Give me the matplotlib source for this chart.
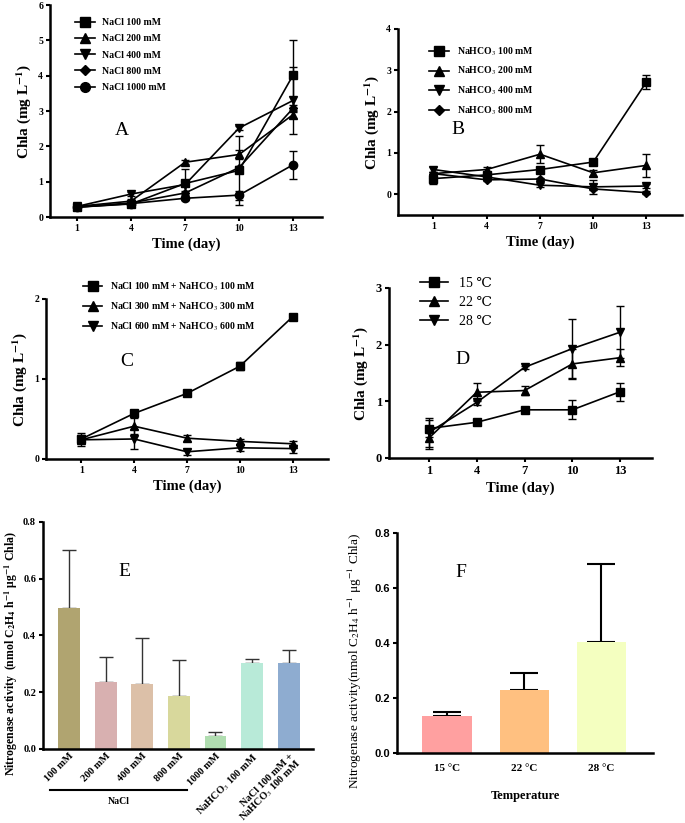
import numpy as np
import matplotlib
matplotlib.use("Agg")
import matplotlib.pyplot as plt
from matplotlib.lines import Line2D

plt.rcParams['font.family'] = ['Liberation Serif', 'DejaVu Serif']
plt.rcParams['mathtext.fontset'] = 'stix'

days = [1, 4, 7, 10, 13]

# Panel A - NaCl
a_labels = ['NaCl 100 mM', 'NaCl 200 mM', 'NaCl 400 mM', 'NaCl 800 mM', 'NaCl 1000 mM']
a_vals = [[0.28, 0.37, 0.95, 1.32, 4.02],
          [0.30, 0.45, 1.55, 1.77, 2.90],
          [0.30, 0.65, 0.92, 2.52, 3.30],
          [0.28, 0.40, 0.68, 1.40, 3.08],
          [0.28, 0.38, 0.53, 0.62, 1.48]]
a_errs = [[0.03, 0.05, 0.42, 0.98, 0.98],
          [0.03, 0.05, 0.05, 0.13, 0.10],
          [0.03, 0.05, 0.05, 0.05, 0.95],
          [0.03, 0.05, 0.05, 0.05, 0.10],
          [0.03, 0.05, 0.05, 0.13, 0.40]]

# Panel B - NaHCO3
b_labels = ['NaHCO$_3$ 100 mM', 'NaHCO$_3$ 200 mM', 'NaHCO$_3$ 400 mM', 'NaHCO$_3$ 800 mM']
b_vals = [[0.38, 0.47, 0.60, 0.78, 2.72],
          [0.50, 0.60, 0.97, 0.52, 0.70],
          [0.60, 0.42, 0.22, 0.18, 0.20],
          [0.50, 0.35, 0.37, 0.13, 0.04]]
b_errs = [[0.12, 0.05, 0.05, 0.05, 0.17],
          [0.05, 0.05, 0.22, 0.08, 0.28],
          [0.05, 0.05, 0.05, 0.17, 0.05],
          [0.05, 0.03, 0.03, 0.03, 0.03]]

# Panel C - NaCl + NaHCO3
c_labels = ['NaCl 100 mM + NaHCO$_3$ 100 mM', 'NaCl 300 mM + NaHCO$_3$ 300 mM',
            'NaCl 600 mM + NaHCO$_3$ 600 mM']
c_vals = [[0.25, 0.57, 0.82, 1.16, 1.78],
          [0.24, 0.41, 0.26, 0.22, 0.19],
          [0.24, 0.25, 0.09, 0.14, 0.13]]
c_errs = [[0.05, 0.02, 0.02, 0.05, 0.02],
          [0.03, 0.10, 0.04, 0.03, 0.03],
          [0.08, 0.13, 0.04, 0.04, 0.05]]

# Panel D - temperature
d_labels = ['15 ℃', '22 ℃', '28 ℃']
d_vals = [[0.52, 0.63, 0.85, 0.85, 1.17],
          [0.35, 1.16, 1.19, 1.66, 1.77],
          [0.45, 0.98, 1.60, 1.93, 2.22]]
d_errs = [[0.15, 0.05, 0.03, 0.17, 0.16],
          [0.20, 0.16, 0.08, 0.26, 0.15],
          [0.25, 0.05, 0.03, 0.52, 0.46]]

# Panel E - nitrogenase activity, salts
e_labels = ['100 mM', '200 mM', '400 mM', '800 mM', '1000 mM',
            'NaHCO$_3$ 100 mM', 'NaCl 100 mM +\nNaHCO$_3$ 100 mM']
e_vals = [0.495, 0.235, 0.228, 0.188, 0.046, 0.303, 0.303]
e_errs = [0.205, 0.088, 0.162, 0.127, 0.014, 0.015, 0.047]
e_colors = ['#B0A470', '#D8B0B0', '#DCC0A8', '#D8D89C', '#B0DDB0', '#B8EAD8', '#8EACD0']

# Panel F - nitrogenase activity, temperature
f_labels = ['15 °C', '22 °C', '28 °C']
f_vals = [0.136, 0.230, 0.405]
f_errs = [0.014, 0.060, 0.282]
f_colors = ['#FFA0A0', '#FFC080', '#F4FFC0']

markers = ['s', '^', 'v', 'D', 'o']
msizes = [6, 6, 6, 4.5, 6]


def style_axes(ax, tick_size=7):
    for s in ['top', 'right']:
        ax.spines[s].set_visible(False)
    for s in ['left', 'bottom']:
        ax.spines[s].set_linewidth(1.8)
    ax.tick_params(width=1.5, length=3, labelsize=tick_size, pad=2)
    for lab in ax.get_xticklabels() + ax.get_yticklabels():
        lab.set_fontweight('bold')


def line_panel(ax, vals, errs, labels, tick_size=7):
    handles = []
    for i, (v, e) in enumerate(zip(vals, errs)):
        ax.errorbar(days, v, yerr=e, color='black', marker=markers[i],
                    markersize=msizes[i], lw=1.2, elinewidth=1.0, capsize=3,
                    capthick=1.0)
        handles.append(Line2D([], [], color='black', marker=markers[i],
                              markersize=msizes[i] + 1, lw=1.2, label=labels[i]))
    ax.set_xticks(days)
    ax.set_xlabel('Time (day)', fontsize=10.5, fontweight='bold', labelpad=3)
    ax.set_ylabel('Chla (mg L$^{\\mathbf{-1}}$)', fontsize=11, fontweight='bold')
    style_axes(ax, tick_size)
    return handles


fig = plt.figure(figsize=(6.85, 8.23), dpi=100)

# A
axA = fig.add_axes([0.073, 0.7363, 0.397, 0.2576])
hA = line_panel(axA, a_vals, a_errs, a_labels)
axA.set_xlim(-0.5, 14.6)
axA.set_ylim(0, 6)
axA.text(0.265, 0.41, 'A', transform=axA.transAxes, fontsize=14, ha='center', va='center')
axA.legend(handles=hA, loc='upper left', bbox_to_anchor=(0.06, 0.98), frameon=False,
           prop={'size': 7, 'weight': 'bold'}, labelspacing=0.75, handlelength=2.0)

# B
axB = fig.add_axes([0.581, 0.7388, 0.4146, 0.226])
hB = line_panel(axB, b_vals, b_errs, b_labels)
axB.set_xlim(-1, 15)
axB.set_ylim(-0.5, 4)
axB.set_yticks([0, 1, 2, 3, 4])
axB.text(0.21, 0.46, 'B', transform=axB.transAxes, fontsize=14, ha='center', va='center')
axB.legend(handles=hB, loc='upper left', bbox_to_anchor=(0.08, 0.96), frameon=False,
           prop={'size': 7, 'weight': 'bold'}, labelspacing=0.75, handlelength=2.0)

# C
axC = fig.add_axes([0.0672, 0.4423, 0.4117, 0.1944])
hC = line_panel(axC, c_vals, c_errs, c_labels)
axC.set_xlim(-1, 15)
axC.set_ylim(0, 2)
axC.set_yticks([0, 1, 2])
axC.text(0.287, 0.61, 'C', transform=axC.transAxes, fontsize=14, ha='center', va='center')
axC.legend(handles=hC, loc='upper left', bbox_to_anchor=(0.1, 1.17), frameon=False,
           prop={'size': 7, 'weight': 'bold'}, labelspacing=0.75, handlelength=2.0)

# D
axD = fig.add_axes([0.5679, 0.4435, 0.384, 0.2066])
hD = line_panel(axD, d_vals, d_errs, d_labels, tick_size=9)
axD.set_xlim(-1.5, 15)
axD.set_ylim(0, 3)
axD.set_yticks([0, 1, 2, 3])
axD.text(0.28, 0.58, 'D', transform=axD.transAxes, fontsize=14, ha='center', va='center')
axD.legend(handles=hD, loc='upper left', bbox_to_anchor=(0.07, 1.14), frameon=False,
           prop={'size': 10}, labelspacing=0.45, handlelength=2.0)

# E
axE = fig.add_axes([0.0628, 0.09, 0.394, 0.2758])
xe = np.arange(len(e_vals))
axE.bar(xe, e_vals, width=0.6, color=e_colors, zorder=2)
axE.errorbar(xe, e_vals, yerr=[np.zeros(len(e_errs)), e_errs], fmt='none',
             ecolor='#333333', elinewidth=1.0, capsize=5, capthick=1.0, zorder=1)
axE.set_xlim(-0.71, 6.66)
axE.set_ylim(0, 0.8)
axE.set_yticks([0, 0.2, 0.4, 0.6, 0.8])
axE.set_yticklabels(['0.0', '0.2', '0.4', '0.6', '0.8'])
axE.set_xticks(xe)
axE.set_xticklabels(e_labels, rotation=45, ha='right', rotation_mode='anchor',
                    fontsize=5.6, linespacing=0.9)
axE.set_ylabel('Nitrogenase activity  (nmol C$_\\mathbf{2}$H$_\\mathbf{4}$ h$^{\\mathbf{-1}}$ μg$^{\\mathbf{-1}}$ Chla)',
               fontsize=8.5, fontweight='bold')
axE.yaxis.set_label_coords(-0.085, 0.42)
style_axes(axE, 7.5)
axE.tick_params(axis='x', length=0, pad=2)
axE.plot([-0.52, 3.22], [-0.18, -0.18], color='black', lw=1.5,
         transform=axE.get_xaxis_transform(), clip_on=False)
axE.text(1.35, -0.23, 'NaCl', transform=axE.get_xaxis_transform(), fontsize=7,
         fontweight='bold', ha='center', va='center')
axE.text(0.30, 0.78, 'E', transform=axE.transAxes, fontsize=14, ha='center', va='center')

# F
axF = fig.add_axes([0.5796, 0.0851, 0.3737, 0.2673])
xf = np.arange(len(f_vals))
axF.bar(xf, f_vals, width=0.64, color=f_colors, zorder=2)
axF.errorbar(xf, f_vals, yerr=[np.zeros(len(f_errs)), f_errs], fmt='none',
             ecolor='black', elinewidth=1.5, capsize=10, capthick=1.5, zorder=1)
axF.set_xlim(-0.65, 2.67)
axF.set_ylim(0, 0.8)
axF.set_yticks([0, 0.2, 0.4, 0.6, 0.8])
axF.set_xticks(xf)
axF.set_xticklabels(f_labels, fontsize=8)
axF.set_xlabel('Temperature', fontsize=9, fontweight='bold', labelpad=12)
axF.set_ylabel('Nitrogenase activity(nmol C$_2$H$_4$ h$^{-1}$ μg$^{-1}$ Chla)',
               fontsize=9.5)
axF.yaxis.set_label_coords(-0.13, 0.42)
style_axes(axF, 8)
axF.set_yticklabels(['0.0', '0.2', '0.4', '0.6', '0.8'], family='Liberation Sans',
                    fontweight='bold', fontsize=8)
axF.tick_params(axis='x', length=0, pad=8)
axF.text(0.25, 0.82, 'F', transform=axF.transAxes, fontsize=14, ha='center', va='center')

fig.savefig('out.png', dpi=100)
